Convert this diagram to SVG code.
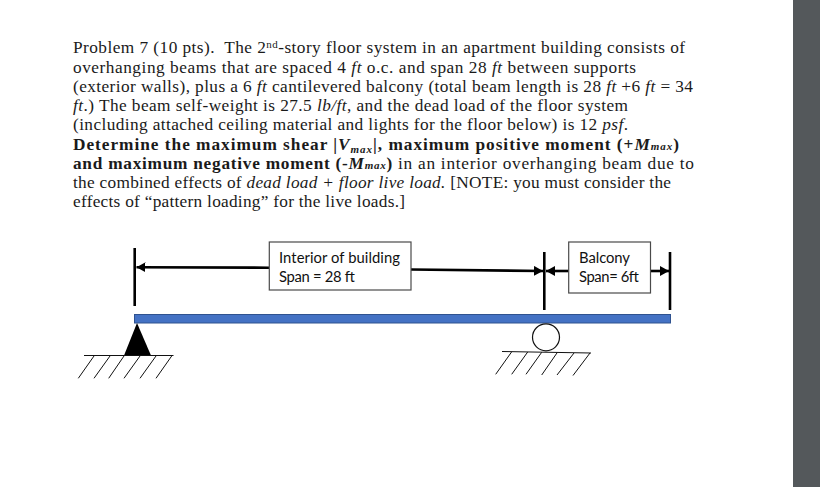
<svg xmlns="http://www.w3.org/2000/svg" width="820" height="487" viewBox="0 0 820 487">
<style>
.t{font-family:"Liberation Serif","DejaVu Serif",serif;font-size:17.300px;fill:#1a1a1a}
.b{font-weight:bold}
.i{font-style:italic}
.s{font-size:11px}
.l{font-family:Lato,"Noto Sans",sans-serif;font-size:14.800px;fill:#111}
.box{fill:#fff;stroke:#4a4a4a;stroke-width:1.2}
.tick{stroke:#000;stroke-width:2.6;fill:none}
.dim{stroke:#000;stroke-width:2.6;fill:none}
.thin{stroke:#111;stroke-width:1;fill:none}
</style>
<defs>
<marker id="ah" markerUnits="userSpaceOnUse" markerWidth="9" markerHeight="10" refX="9" refY="5" orient="auto-start-reverse"><path d="M0 0L9 5L0 10Z" fill="#000"/></marker>
</defs>
<rect width="820" height="487" fill="#fff"/>
<rect id="sidebar" x="793" y="0" width="27" height="487" fill="#54585b"/>
<g id="problem-text">
<text class="t" x="73" y="53" textLength="612">Problem 7 (10 pts).&#160; The 2<tspan class="s" dy="-5">nd</tspan><tspan dy="5">-story floor system in an apartment building consists of</tspan></text>
<text class="t" x="73" y="73" textLength="563">overhanging beams that are spaced 4 <tspan class="i">ft</tspan> o.c. and span 28 <tspan class="i">ft</tspan> between supports</text>
<text class="t" x="73" y="92" textLength="620">(exterior walls), plus a 6 <tspan class="i">ft</tspan> cantilevered balcony (total beam length is 28 <tspan class="i">ft</tspan> +6 <tspan class="i">ft</tspan> = 34</text>
<text class="t" x="73" y="111" textLength="555"><tspan class="i">ft</tspan>.) The beam self-weight is 27.5 <tspan class="i">lb/ft</tspan>, and the dead load of the floor system</text>
<text class="t" x="73" y="130" textLength="555">(including attached ceiling material and lights for the floor below) is 12 <tspan class="i">psf</tspan>.</text>
<text class="t b" x="73" y="150" textLength="606">Determine the maximum shear |<tspan class="i">V</tspan><tspan class="i s" dy="3">max</tspan><tspan dy="-3">|, maximum positive moment (+</tspan><tspan class="i">M</tspan><tspan class="i s">max</tspan>)</text>
<text class="t" x="73" y="169" textLength="621"><tspan class="b">and maximum negative moment (-</tspan><tspan class="b i">M</tspan><tspan class="b i s">max</tspan><tspan class="b">)</tspan> in an interior overhanging beam due to</text>
<text class="t" x="73" y="188" textLength="598">the combined effects of <tspan class="i">dead load + floor live load.</tspan> [NOTE: you must consider the</text>
<text class="t" x="73" y="207" textLength="332">effects of “pattern loading” for the live loads.]</text>
</g>
<g id="connectors">
<line class="dim" x1="269" y1="267.700" x2="136.500" y2="267.200" marker-end="url(#ah)"/>
<line class="dim" x1="411" y1="269.500" x2="543" y2="271" marker-end="url(#ah)"/>
<line class="dim" x1="568.700" y1="271" x2="546" y2="271" marker-end="url(#ah)"/>
<line class="dim" x1="650.500" y1="271" x2="669" y2="271" marker-end="url(#ah)"/>
</g>
<g id="dimension-ticks">
<line class="tick" x1="134.700" y1="248" x2="134.700" y2="306"/>
<line class="tick" x1="544.300" y1="252" x2="544.300" y2="310"/>
<line class="tick" x1="670" y1="252" x2="670" y2="310"/>
</g>
<g id="label-interior">
<rect class="box" x="269.300" y="242" width="141.700" height="48"/>
<text class="l" x="279" y="263" textLength="121">Interior of building</text>
<text class="l" x="279" y="282" textLength="76">Span = 28 ft</text>
</g>
<g id="label-balcony">
<rect class="box" x="568.700" y="242" width="81.800" height="51"/>
<text class="l" x="579" y="263" textLength="51">Balcony</text>
<text class="l" x="579" y="282" textLength="60">Span= 6ft</text>
</g>
<g id="beam">
<rect x="134.500" y="314.500" width="536" height="8.500" fill="#4472c4" stroke="#2f528f" stroke-width="1"/>
</g>
<g id="pin-support">
<path d="M137 323L151 355.500H124Z" fill="#000"/>
<path class="thin" d="M84 355.500H173.500M94 356L78.300 378.300M110 356L94 378.300M124 356L108.700 378.300M140 356L124 378.300M156 356L140 378.300M171.700 356L156 378.300"/>
</g>
<g id="roller-support">
<circle cx="546" cy="337.300" r="13.500" fill="#fff" stroke="#111" stroke-width="1.200"/>
<path class="thin" d="M502 351.500L591 353M511.700 351.800L495.700 374.300M527.700 352L511.700 374.300M541.700 352.300L526 374.300M557.300 352.500L541.700 375M574 353L557 375M590 353L573 375.500"/>
</g>
</svg>
